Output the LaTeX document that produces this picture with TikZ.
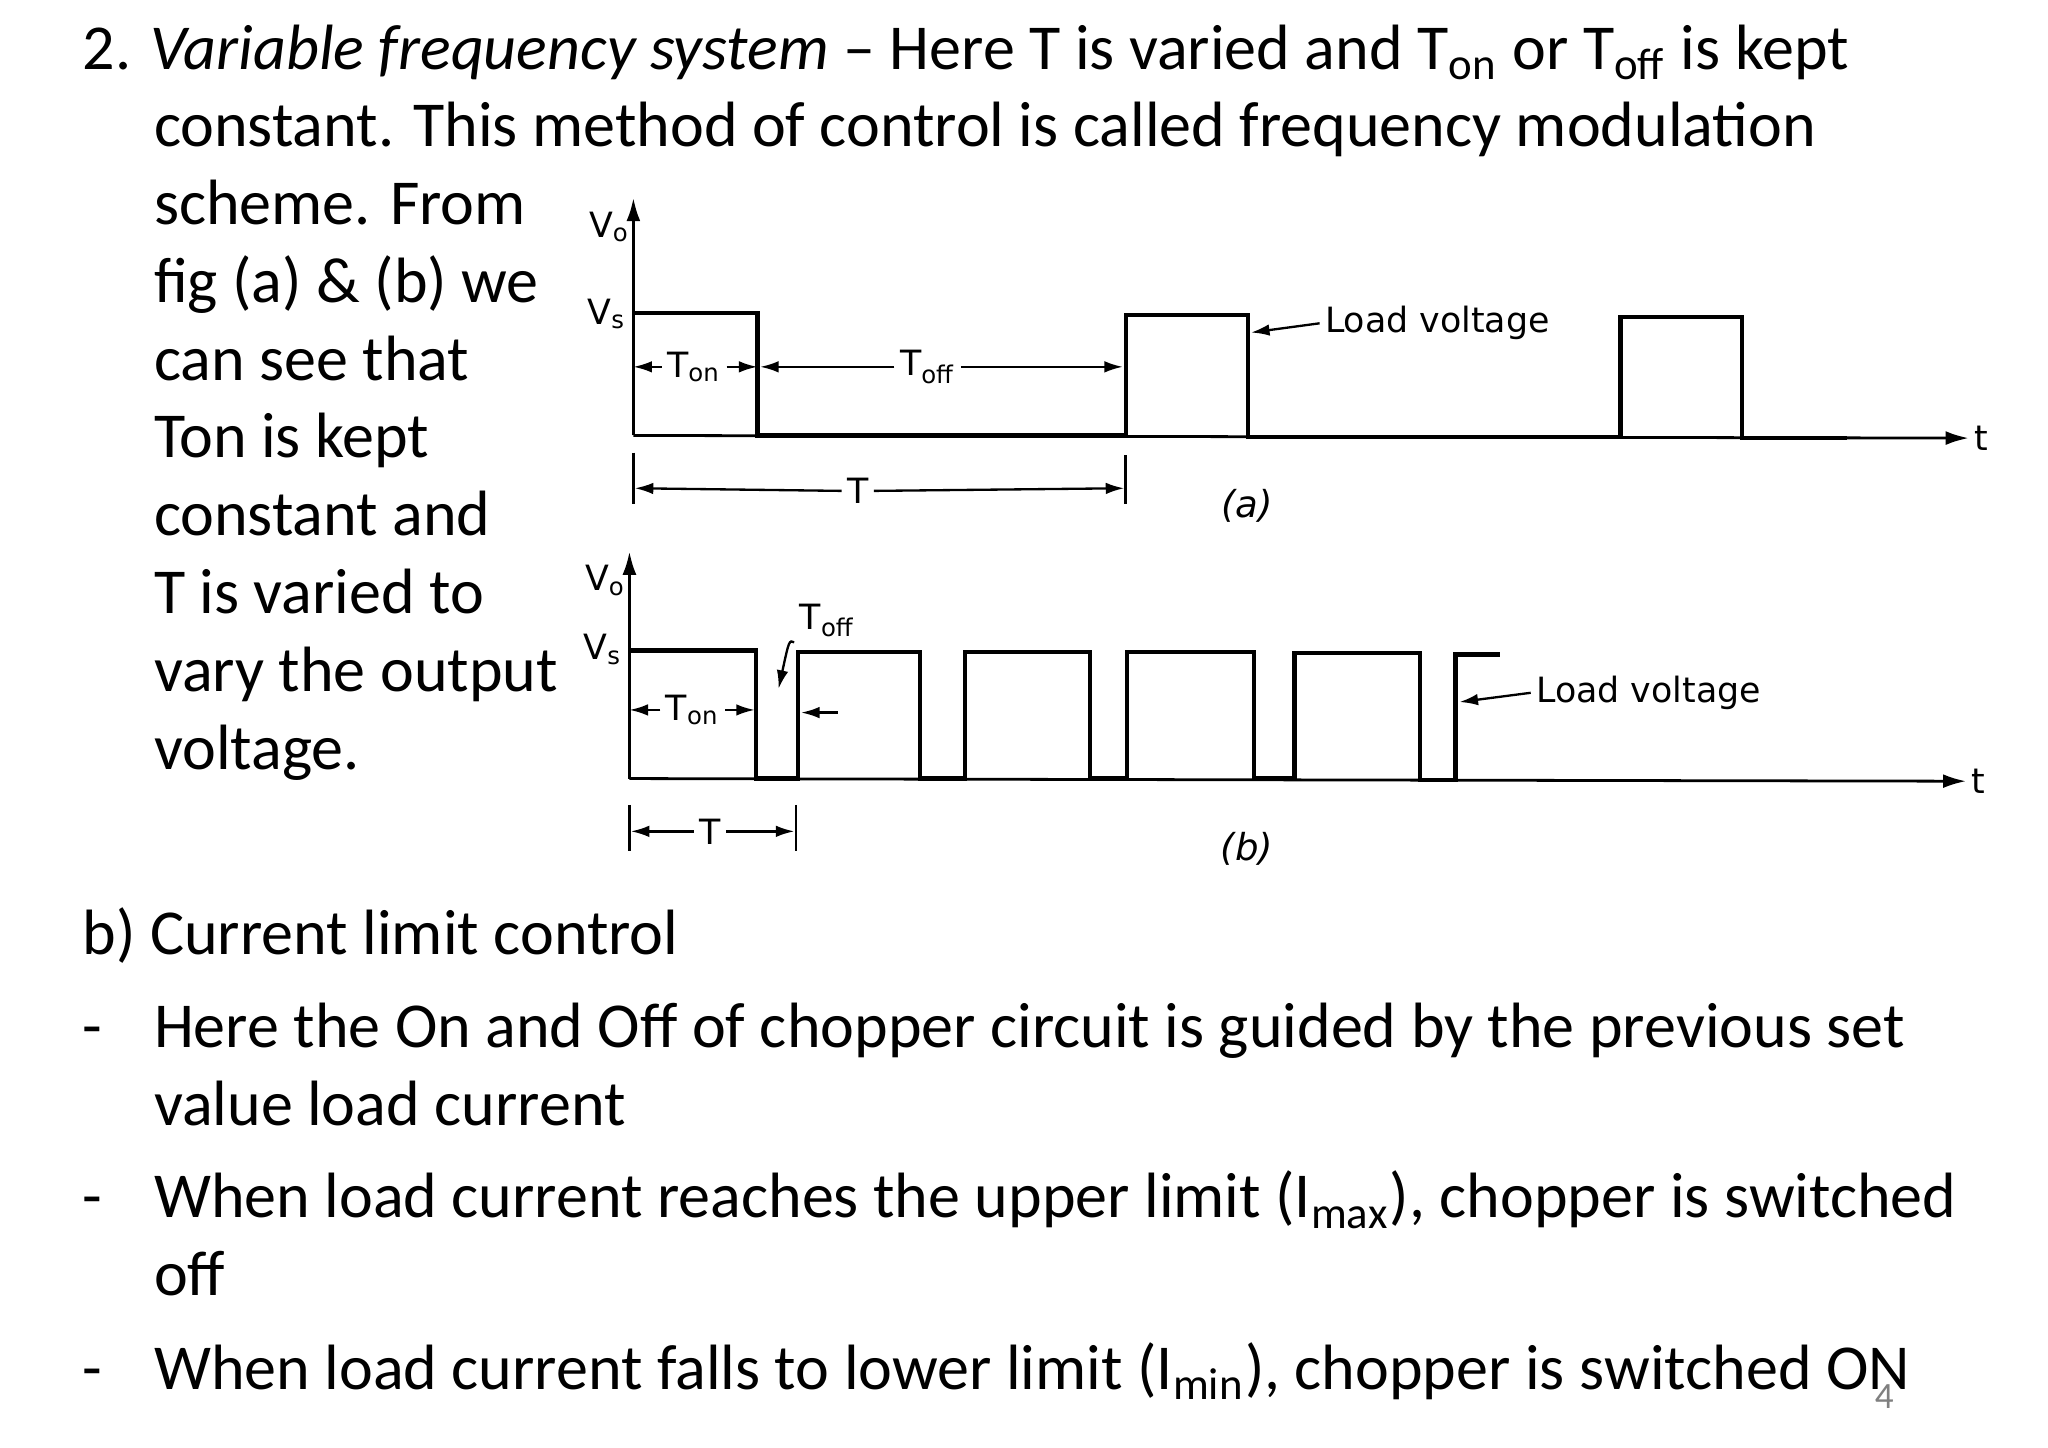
\documentclass[tikz,border=0pt]{standalone}
\usepackage{fontspec}
\setmainfont{Carlito}
\newfontfamily\figfont{DejaVu Sans}
\usetikzlibrary{arrows.meta}
\begin{document}
\begin{tikzpicture}[x=0.01cm,y=-0.01cm,
  txt/.style={anchor=base west,inner sep=0pt,font=\fontsize{13.8pt}{17pt}\selectfont},
  lbl/.style={inner sep=1pt,font=\figfont\fontsize{7.5pt}{9pt}\selectfont},
  wave/.style={line width=0.9pt,line join=miter},
  axis/.style={line width=0.6pt,-{Latex[length=5pt,width=3pt]}},
  dim/.style={line width=0.5pt,-{Latex[length=4pt,width=2.5pt]}}]
\useasboundingbox (0,0) rectangle (1552,1097);
% text
\node[txt] (l1) at (62,53) {2. \textit{Variable frequency system} -- Here T is varied and T\textsubscript{on} or T\textsubscript{off} is kept};
\node[txt] (l2) at (116,111) {constant. This method of control is called frequency modulation};
\node[txt] (l3) at (116,170) {scheme. From};
\node[txt] (l4) at (116,229) {fig (a) \& (b) we};
\node[txt] (l5) at (116,288) {can see that};
\node[txt] (l6) at (116,347) {Ton is kept};
\node[txt] (l7) at (116,406) {constant and};
\node[txt] (l8) at (116,465) {T is varied to};
\node[txt] (l9) at (116,524) {vary the output};
\node[txt] (l10) at (116,583) {voltage.};
\node[txt] (b0) at (62,723) {b) Current limit control};
\node[txt] (d1) at (62,794) {-};
\node[txt] (b1) at (116,794) {Here the On and Off of chopper circuit is guided by the previous set};
\node[txt] (b2) at (116,853) {value load current};
\node[txt] (d2) at (62,923) {-};
\node[txt] (b3) at (116,923) {When load current reaches the upper limit (I\textsubscript{max}), chopper is switched};
\node[txt] (b4) at (116,982) {off};
\node[txt] (d3) at (62,1053) {-};
\node[txt] (b5) at (116,1053) {When load current falls to lower limit (I\textsubscript{min}), chopper is switched ON};
\node[inner sep=0pt,text=gray,font=\fontsize{8pt}{9pt}\selectfont] (pg) at (1428,1058) {4};
% diagram (a)
\coordinate (ao) at (480,330);
\coordinate (ay) at (480,150);
\coordinate (ax) at (1492,332);
\draw[axis] (ao) -- (ay);
\draw[axis] (ao) -- (ax);
\node[lbl,anchor=west] (at) at (ax) {t};
\node[lbl] (avo) at (462,172) {V\textsubscript{o}};
\node[lbl] (avs) at (460,238) {V\textsubscript{s}};
\draw[wave] (480,237) -- (574,237) -- (574,330) -- (853,330) -- (853,239) -- (946,239) -- (946,331)
  -- (1228,331) -- (1228,240) -- (1320,240) -- (1320,332) -- (1400,332);
\node[lbl,anchor=west] (alv) at (1000,245) {Load voltage};
\draw[dim] (alv.west) -- (948,252);
\node[lbl] (aton) at (526,278) {T\textsubscript{on}};
\draw[dim] (aton.west) -- (480,278);
\draw[dim] (aton.east) -- (574,278);
\node[lbl] (atoff) at (703,278) {T\textsubscript{off}};
\draw[dim] (atoff.west) -- (576,278);
\draw[dim] (atoff.east) -- (851,278);
\draw[line width=0.5pt] (480,343) -- (480,382);
\draw[line width=0.5pt] (853,345) -- (853,382);
\node[lbl] (aT) at (650,372) {T};
\draw[dim] (aT.west) -- (481,370);
\draw[dim] (aT.east) -- (852,370);
\node[lbl,font=\figfont\itshape\fontsize{8pt}{9pt}\selectfont] (acap) at (945,383) {(a)};
% diagram (b)
\coordinate (bo) at (477,590);
\coordinate (by) at (477,418);
\coordinate (bx) at (1490,592);
\draw[axis] (bo) -- (by);
\draw[axis] (bo) -- (bx);
\node[lbl,anchor=west] (bt) at (bx) {t};
\node[lbl] (bvo) at (459,440) {V\textsubscript{o}};
\node[lbl] (bvs) at (457,492) {V\textsubscript{s}};
\draw[wave] (477,493) -- (573,493) -- (573,590) -- (605,590) -- (605,494) -- (697,494) -- (697,590)
  -- (731,590) -- (731,494) -- (826,494) -- (826,590) -- (854,590) -- (854,494) -- (950,494) -- (950,590)
  -- (981,590) -- (981,495) -- (1076,495) -- (1076,591) -- (1103,591) -- (1103,496) -- (1137,496);
\node[lbl,anchor=west] (blv) at (1160,525) {Load voltage};
\draw[dim] (blv.west) -- (1106,532);
\node[lbl] (bton) at (525,538) {T\textsubscript{on}};
\draw[dim] (bton.west) -- (477,538);
\draw[dim] (bton.east) -- (572,538);
\draw[dim] (635,540) -- (607,540);
\node[lbl] (btoff) at (627,470) {T\textsubscript{off}};
\draw[dim] (btoff.south west) .. controls (598,485) .. (590,522);
\draw[line width=0.5pt] (477,610) -- (477,645);
\draw[line width=0.5pt] (603,610) -- (603,645);
\node[lbl] (bT) at (538,630) {T};
\draw[dim] (bT.west) -- (478,630);
\draw[dim] (bT.east) -- (602,630);
\node[lbl,font=\figfont\itshape\fontsize{8pt}{9pt}\selectfont] (bcap) at (945,643) {(b)};
\end{tikzpicture}
\end{document}
